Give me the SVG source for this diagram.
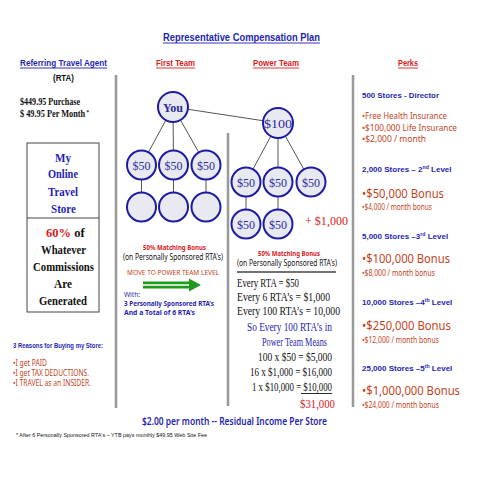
<svg xmlns="http://www.w3.org/2000/svg" width="480" height="480" viewBox="0 0 480 480">
<style>
.sans{font-family:"Liberation Sans",Arial,sans-serif}
.serif{font-family:"Liberation Serif","Times New Roman",serif}
.cal{font-family:"Noto Sans","Open Sans",sans-serif}
.b{font-weight:bold}
.blue{fill:#1f1fb0}
.red{fill:#d8201c}
.org{fill:#c2441c}
.blk{fill:#111}
.sep{stroke:#999;stroke-width:2.5}
.ul{stroke-width:0.9}
.node circle{fill:#e9e9f1;stroke:#1c1ca0;stroke-width:2}
.conn line{stroke:#555;stroke-width:1}
.ct{font-family:"Liberation Serif","Times New Roman",serif;fill:#2a2aa0;font-size:12px;text-anchor:middle}
</style>
<rect width="480" height="480" fill="#fff"/>

<!-- title -->
<text class="sans b blue" x="163" y="41" font-size="11" textLength="157" lengthAdjust="spacingAndGlyphs">Representative Compensation Plan</text>
<line x1="163" y1="43" x2="320" y2="43" stroke="#1f1fb0" class="ul"/>

<!-- headers -->
<text class="sans b blue" x="20" y="66" font-size="9.5" textLength="87" lengthAdjust="spacingAndGlyphs">Referring Travel Agent</text>
<line x1="20" y1="68" x2="107" y2="68" stroke="#1f1fb0" class="ul"/>
<text class="sans b blk" x="53" y="80.5" font-size="9.5" textLength="21" lengthAdjust="spacingAndGlyphs">(RTA)</text>
<text class="sans b red" x="156" y="66" font-size="9.5" textLength="39" lengthAdjust="spacingAndGlyphs">First Team</text>
<line x1="156" y1="68" x2="195" y2="68" stroke="#d8201c" class="ul"/>
<text class="sans b red" x="253" y="66" font-size="9.5" textLength="46" lengthAdjust="spacingAndGlyphs">Power Team</text>
<line x1="253" y1="68" x2="299" y2="68" stroke="#d8201c" class="ul"/>
<text class="sans b red" x="398" y="66" font-size="9.5" textLength="20" lengthAdjust="spacingAndGlyphs">Perks</text>
<line x1="398" y1="68" x2="418" y2="68" stroke="#d8201c" class="ul"/>

<!-- separators -->
<line class="sep" x1="116" y1="75" x2="116" y2="408"/>
<line class="sep" x1="228" y1="133" x2="228" y2="406"/>
<line class="sep" x1="353" y1="75" x2="353" y2="407"/>

<!-- left column -->
<text class="serif b blk" x="20" y="104.5" font-size="10" textLength="60" lengthAdjust="spacingAndGlyphs">$449.95 Purchase</text>
<text class="serif b blk" font-size="10" transform="translate(20,117) scale(0.83,1)">$ 49.95 Per Month<tspan font-size="6" dy="-3"> *</tspan></text>

<g id="store-box">
<rect x="27" y="143" width="72" height="169" fill="#fff" stroke="#444" stroke-width="1"/>
<line x1="27" y1="218" x2="99" y2="218" stroke="#444" stroke-width="1"/>
<g class="serif b blue" font-size="12.5">
<text x="55" y="161.5" textLength="16" lengthAdjust="spacingAndGlyphs">My</text>
<text x="48" y="178" textLength="30" lengthAdjust="spacingAndGlyphs">Online</text>
<text x="48" y="196" textLength="30" lengthAdjust="spacingAndGlyphs">Travel</text>
<text x="51" y="212.5" textLength="25" lengthAdjust="spacingAndGlyphs">Store</text>
</g>
<g class="serif b blk" font-size="12.5">
<text x="46" y="236.5"><tspan fill="#d8201c">60%</tspan> of</text>
<text x="41" y="253.5" textLength="45" lengthAdjust="spacingAndGlyphs">Whatever</text>
<text x="33" y="271" textLength="61" lengthAdjust="spacingAndGlyphs">Commissions</text>
<text x="54" y="288" textLength="18" lengthAdjust="spacingAndGlyphs">Are</text>
<text x="39" y="305" textLength="48" lengthAdjust="spacingAndGlyphs">Generated</text>
</g>
</g>

<text class="sans b blue" x="13" y="347.5" font-size="7" textLength="90" lengthAdjust="spacingAndGlyphs">3 Reasons for Buying my Store:</text>
<g class="cal org" font-size="8">
<text x="13" y="366" textLength="34" lengthAdjust="spacingAndGlyphs">•I get PAID</text>
<text x="13" y="376" textLength="76" lengthAdjust="spacingAndGlyphs">•I get TAX DEDUCTIONS.</text>
<text x="13" y="385.5" textLength="78" lengthAdjust="spacingAndGlyphs">•I TRAVEL as an INSIDER.</text>
</g>

<!-- connectors -->
<g class="conn" id="connectors">
<line x1="173" y1="107" x2="278" y2="123"/>
<line x1="173" y1="107" x2="141.5" y2="165"/>
<line x1="173" y1="107" x2="173.5" y2="165"/>
<line x1="173" y1="107" x2="206" y2="165"/>
<line x1="141.5" y1="165" x2="141.5" y2="207"/>
<line x1="173.5" y1="165" x2="173.5" y2="207"/>
<line x1="206" y1="165" x2="206" y2="207"/>
<line x1="278" y1="123" x2="246" y2="182"/>
<line x1="278" y1="123" x2="278" y2="182"/>
<line x1="278" y1="123" x2="311" y2="182"/>
<line x1="246" y1="182" x2="246" y2="224"/>
<line x1="278" y1="182" x2="278" y2="224"/>
</g>

<!-- first team nodes -->
<g class="node" id="you"><circle cx="173" cy="107" r="15"/><text class="ct" x="173" y="112" font-size="14" font-weight="bold">You</text></g>
<g class="node" id="ft1"><circle cx="141.5" cy="165" r="14.5"/><text class="ct" x="141.5" y="169.5">$50</text></g>
<g class="node" id="ft2"><circle cx="173.5" cy="165" r="14.5"/><text class="ct" x="173.5" y="169.5">$50</text></g>
<g class="node" id="ft3"><circle cx="206" cy="165" r="14.5"/><text class="ct" x="206" y="169.5">$50</text></g>
<g class="node" id="ft4"><circle cx="141.5" cy="207" r="14.5"/></g>
<g class="node" id="ft5"><circle cx="173.5" cy="207" r="14.5"/></g>
<g class="node" id="ft6"><circle cx="206" cy="207" r="14.5"/></g>

<!-- power team nodes -->
<g class="node" id="p100"><circle cx="278" cy="123" r="15"/><text class="ct" x="278" y="127.5" textLength="28" lengthAdjust="spacingAndGlyphs">$100</text></g>
<g class="node" id="pt1"><circle cx="246" cy="182" r="14.5"/><text class="ct" x="246" y="186.5">$50</text></g>
<g class="node" id="pt2"><circle cx="278" cy="182" r="14.5"/><text class="ct" x="278" y="186.5">$50</text></g>
<g class="node" id="pt3"><circle cx="311" cy="182" r="14.5"/><text class="ct" x="311" y="186.5">$50</text></g>
<g class="node" id="pt4"><circle cx="246" cy="224" r="14.5"/><text class="ct" x="246" y="228.5">$50</text></g>
<g class="node" id="pt5"><circle cx="278" cy="224" r="14.5"/><text class="ct" x="278" y="228.5">$50</text></g>
<text class="serif red" x="305" y="225" font-size="12" textLength="43" lengthAdjust="spacingAndGlyphs">+ $1,000</text>

<!-- first team text -->
<text class="cal b red" x="143" y="250" font-size="7.5" textLength="63" lengthAdjust="spacingAndGlyphs">50% Matching Bonus</text>
<text class="cal blk" x="123" y="260" font-size="8" textLength="100" lengthAdjust="spacingAndGlyphs">(on Personally Sponsored RTA's)</text>
<text class="cal org" x="127" y="274.5" font-size="7.5" textLength="92" lengthAdjust="spacingAndGlyphs">MOVE TO POWER TEAM LEVEL</text>
<g id="arrow">
<rect x="143" y="281.5" width="47" height="7" fill="#1f9a1f"/>
<line x1="143" y1="285" x2="191" y2="285" stroke="#fff" stroke-width="1.4"/>
<polygon points="189,278.5 201,285 189,291.5" fill="#1f9a1f"/>
</g>
<text class="cal blue" x="124" y="297" font-size="7.5" textLength="16" lengthAdjust="spacingAndGlyphs">With:</text>
<text class="cal b blue" x="124" y="306" font-size="7.5" textLength="90" lengthAdjust="spacingAndGlyphs">3 Personally Sponsored RTA's</text>
<text class="cal b blue" x="124" y="315" font-size="7.5" textLength="71" lengthAdjust="spacingAndGlyphs">And a Total of 6 RTA's</text>

<!-- power team text -->
<text class="cal b red" x="258" y="256" font-size="7.5" textLength="62" lengthAdjust="spacingAndGlyphs">50% Matching Bonus</text>
<text class="cal blk" x="237" y="266" font-size="8" textLength="100" lengthAdjust="spacingAndGlyphs">(on Personally Sponsored RTA's)</text>
<line x1="237" y1="272" x2="336" y2="272" stroke="#444" stroke-width="1.3"/>
<g class="serif blk" font-size="12">
<text x="237" y="287" textLength="62" lengthAdjust="spacingAndGlyphs">Every RTA = $50</text>
<text x="237" y="301" textLength="93" lengthAdjust="spacingAndGlyphs">Every 6 RTA’s = $1,000</text>
<text x="237" y="315" textLength="103" lengthAdjust="spacingAndGlyphs">Every 100 RTA’s = 10,000</text>
</g>
<g class="serif blue" font-size="12">
<text x="247" y="331" textLength="85" lengthAdjust="spacingAndGlyphs">So Every 100 RTA’s in</text>
<text x="262" y="346" textLength="65" lengthAdjust="spacingAndGlyphs">Power Team Means</text>
</g>
<g class="serif blk" font-size="12">
<text x="258" y="361" textLength="74" lengthAdjust="spacingAndGlyphs">100 x $50 = $5,000</text>
<text x="250" y="376" textLength="82" lengthAdjust="spacingAndGlyphs">16 x $1,000 = $16,000</text>
<text x="252" y="391" textLength="80" lengthAdjust="spacingAndGlyphs">1 x $10,000 = $10,000</text>
</g>
<line x1="301" y1="393.5" x2="332" y2="393.5" stroke="#111" stroke-width="0.9"/>
<text class="serif red" x="300" y="408" font-size="13" textLength="35" lengthAdjust="spacingAndGlyphs">$31,000</text>

<text class="cal blue" x="142" y="425" font-size="11.5" font-weight="600" textLength="185" lengthAdjust="spacingAndGlyphs">$2.00 per month -- Residual Income Per Store</text>
<text class="sans blk" x="16" y="437" font-size="5.8" textLength="191" lengthAdjust="spacingAndGlyphs">* After 6 Personally Sponsored RTA's – YTB pays monthly $49.95 Web Site Fee</text>

<!-- perks -->
<g class="sans b blue" font-size="8">
<text x="362" y="98" textLength="77" lengthAdjust="spacingAndGlyphs">500 Stores - Director</text>
<text x="362" y="172">2,000 Stores – 2<tspan font-size="5.2" dy="-3">nd</tspan><tspan dy="3"> Level</tspan></text>
<text x="362" y="239">5,000 Stores –3<tspan font-size="5.2" dy="-3">rd</tspan><tspan dy="3"> Level</tspan></text>
<text x="362" y="305">10,000 Stores –4<tspan font-size="5.2" dy="-3">th</tspan><tspan dy="3"> Level</tspan></text>
<text x="362" y="371">25,000 Stores –5<tspan font-size="5.2" dy="-3">th</tspan><tspan dy="3"> Level</tspan></text>
</g>
<g class="cal org" font-size="8.3">
<text x="362" y="119" textLength="85" lengthAdjust="spacingAndGlyphs">•Free Health Insurance</text>
<text x="362" y="130.5" textLength="95" lengthAdjust="spacingAndGlyphs">•$100,000 Life Insurance</text>
<text x="362" y="142" textLength="64" lengthAdjust="spacingAndGlyphs">•$2,000 / month</text>
<text x="362" y="209.5" textLength="70" lengthAdjust="spacingAndGlyphs">•$4,000 / month bonus</text>
<text x="362" y="275.5" textLength="73" lengthAdjust="spacingAndGlyphs">•$8,000 / month bonus</text>
<text x="362" y="342.5" textLength="77" lengthAdjust="spacingAndGlyphs">•$12,000 / month bonus</text>
<text x="362" y="407.5" textLength="77" lengthAdjust="spacingAndGlyphs">•$24,000 / month bonus</text>
</g>
<g class="cal org" font-size="12.5">
<text x="362" y="197.5" textLength="82" lengthAdjust="spacingAndGlyphs">•$50,000 Bonus</text>
<text x="362" y="262.5" textLength="88" lengthAdjust="spacingAndGlyphs">•$100,000 Bonus</text>
<text x="362" y="329.5" textLength="89" lengthAdjust="spacingAndGlyphs">•$250,000 Bonus</text>
<text x="362" y="394.5" textLength="98" lengthAdjust="spacingAndGlyphs">•$1,000,000 Bonus</text>
</g>
</svg>
